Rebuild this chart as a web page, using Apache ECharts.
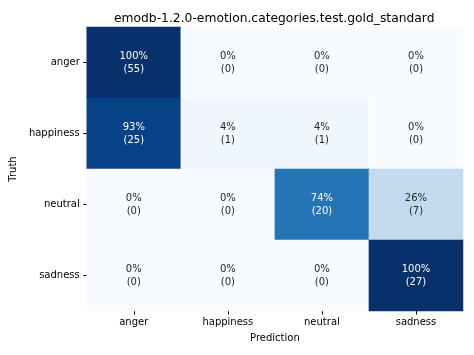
<!DOCTYPE html>
<html>
<head>
<meta charset="utf-8">
<script src="https://cdn.jsdelivr.net/npm/echarts@6/dist/echarts.min.js"></script>
<style>html,body{margin:0;padding:0;background:#fff;}#c{width:474px;height:355px;}</style>
</head>
<body>
<div id="c"></div>
<script>
const categories = ['anger', 'happiness', 'neutral', 'sadness'];
// rows = truth, columns = prediction
const percents = [
  [100, 0, 0, 0],
  [93, 4, 4, 0],
  [0, 0, 74, 26],
  [0, 0, 0, 100]
];
const counts = [
  [55, 0, 0, 0],
  [25, 1, 1, 0],
  [0, 0, 20, 7],
  [0, 0, 0, 27]
];
const titleText = 'emodb-1.2.0-emotion.categories.test.gold_standard';

const data = [];
for (let r = 0; r < categories.length; r++) {
  for (let c = 0; c < categories.length; c++) {
    const p = percents[r][c];
    data.push({
      value: [c, r, p, counts[r][c]],
      label: { color: p > 50 ? '#ffffff' : '#262626' }
    });
  }
}

const font = 'DejaVu Sans';
const chart = echarts.init(document.getElementById('c'));
chart.setOption({
  backgroundColor: '#ffffff',
  animation: false,
  title: {
    text: titleText,
    left: 109, top: 8,
    textStyle: { fontFamily: font, fontSize: 12.3, fontWeight: 'normal', color: '#000' }
  },
  grid: { left: 85, right: 11, top: 27, bottom: 44 },
  xAxis: {
    type: 'category', data: categories,
    name: 'Prediction', nameLocation: 'middle', nameGap: 22,
    nameTextStyle: { fontFamily: font, fontSize: 10, color: '#000' },
    axisLine: { show: false },
    axisTick: { show: true, alignWithLabel: true, length: 3.5, lineStyle: { color: '#000' } },
    axisLabel: { fontFamily: font, fontSize: 10, color: '#000', margin: 6 },
    splitLine: { show: false }
  },
  yAxis: {
    type: 'category', data: categories, inverse: true,
    name: 'Truth', nameLocation: 'middle', nameGap: 64, nameRotate: 90,
    nameTextStyle: { fontFamily: font, fontSize: 10, color: '#000' },
    axisLine: { show: false },
    axisTick: { show: true, alignWithLabel: true, length: 3.5, lineStyle: { color: '#000' } },
    axisLabel: { fontFamily: font, fontSize: 10, color: '#000', margin: 7 },
    splitLine: { show: false }
  },
  visualMap: {
    show: false, min: 0, max: 100, dimension: 2,
    inRange: { color: ['#f7fbff', '#deebf7', '#c6dbef', '#9ecae1', '#6baed6', '#4292c6', '#2171b5', '#08519c', '#08306b'] }
  },
  series: [{
    type: 'heatmap',
    data: data,
    label: {
      show: true, fontFamily: font, fontSize: 10, lineHeight: 13,
      formatter: p => p.value[2] + '%\n(' + p.value[3] + ')'
    },
    itemStyle: { borderWidth: 0 },
    emphasis: { disabled: true }
  }]
});
</script>
</body>
</html>
